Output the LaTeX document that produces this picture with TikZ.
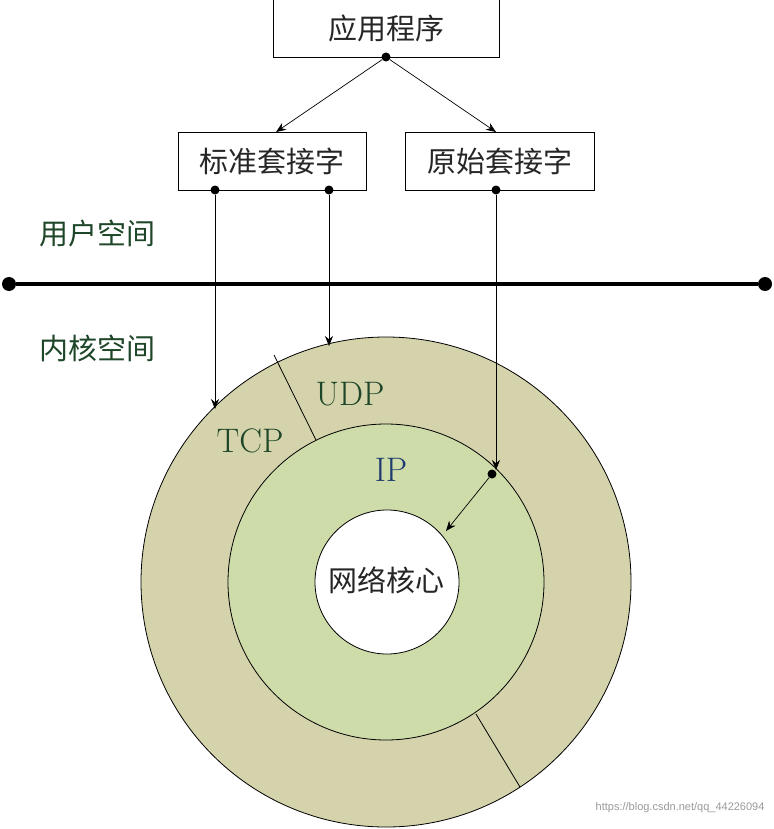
\documentclass[tikz,border=0pt]{standalone}
\usepackage{fontspec}
\newfontfamily\cjk{Noto Sans CJK SC}
\setsansfont{Liberation Sans}
\usetikzlibrary{arrows.meta}
\definecolor{ringout}{HTML}{D5D3AB}
\definecolor{ringmid}{HTML}{CEDCA9}
\definecolor{lbl}{HTML}{1E4628}
\definecolor{ipc}{HTML}{1F3A6E}
\tikzset{
  box/.style={draw, line width=0.8pt, minimum height=58pt, inner sep=0pt, font=\cjk\fontsize{29}{29}\selectfont, text=black!85},
  dot/.style={circle, fill=black, inner sep=0pt, minimum size=9pt},
  arr/.style={-{Stealth[length=10pt,width=8pt]}, line width=0.7pt},
  cjklbl/.style={font=\cjk\fontsize{29}{29}\selectfont, text=lbl},
  lat/.style={font=\fontsize{34}{34}\selectfont, text=lbl}
}
\begin{document}
\begin{tikzpicture}[x=1pt,y=-1pt]
\useasboundingbox (0,0) rectangle (773,829);
% rings
\node[circle, draw, line width=0.8pt, fill=ringout, minimum size=490pt, inner sep=0pt] (outer) at (386,582) {};
\node[circle, draw, line width=0.8pt, fill=ringmid, minimum size=316pt, inner sep=0pt] (mid) at (386,582) {};
\node[circle, draw, line width=0.8pt, fill=white, minimum size=144pt, inner sep=0pt] (core) at (387,582) {};
\node[cjklbl, text=black!85] (coretext) at (386,580) {网络核心};
\coordinate (d1a) at (274,355); \coordinate (d1b) at (316,440);
\coordinate (d2a) at (476,714); \coordinate (d2b) at (520,787);
\draw[line width=0.8pt] (d1a) -- (d1b);
\draw[line width=0.8pt] (d2a) -- (d2b);
\node[lat] (udp) at (350,394) {UDP};
\node[lat] (tcp) at (250,441) {TCP};
\node[lat, text=ipc] (ip) at (391,470) {IP};
% boxes
\node[box, minimum width=226pt] (app) at (386,28) {应用程序};
\node[box, minimum width=188pt] (std) at (272,161) {标准套接字};
\node[box, minimum width=189pt] (raw) at (499.5,161) {原始套接字};
\node[dot] (appdot) at (386,57) {};
\coordinate (stdin) at (276,132);
\coordinate (rawin) at (496,132);
\draw[arr] (appdot) -- (stdin);
\draw[arr] (appdot) -- (rawin);
% labels
\node[cjklbl] (user) at (97,233) {用户空间};
\node[cjklbl] (kern) at (97,348) {内核空间};
% thick line
\node[dot, minimum size=14pt] (ll) at (9,284) {};
\node[dot, minimum size=14pt] (lr) at (765,284) {};
\draw[line width=4pt] (ll) -- (lr);
% arrows down
\node[dot] (s1) at (215,190) {};
\node[dot] (s2) at (329,190) {};
\node[dot] (r1) at (496,190) {};
\coordinate (t1) at (215,409);
\coordinate (t2) at (329,346);
\coordinate (t3) at (496,470);
\draw[arr] (s1) -- (t1);
\draw[arr] (s2) -- (t2);
\draw[arr] (r1) -- (t3);
\node[dot] (ipdot) at (492,474) {};
\coordinate (t4) at (446,531);
\draw[arr] (ipdot) -- (t4);
\node[font=\sffamily\fontsize{11}{11}\selectfont, text=black!40, anchor=east] (wm) at (768,808) {https://blog.csdn.net/qq\_44226094};
\end{tikzpicture}
\end{document}
